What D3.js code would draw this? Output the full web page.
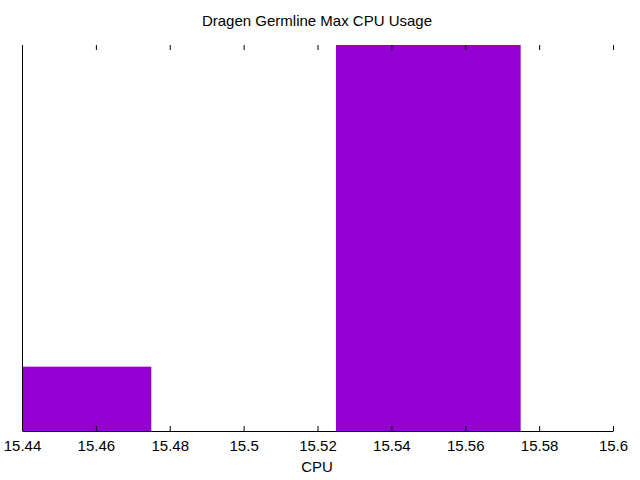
<!DOCTYPE html>
<html><head><meta charset="utf-8">
<script src="https://cdn.jsdelivr.net/npm/d3@7"></script>
<style>body{margin:0;background:#fff}</style></head>
<body><svg id="c" width="640" height="480"></svg>
<script>
const binStarts = [15.425, 15.525];
const binEnds = [15.475, 15.575];
const counts = [1, 6];
const xTicks = [15.44, 15.46, 15.48, 15.5, 15.52, 15.54, 15.56, 15.58, 15.6];
const svg = d3.select("#c");
const L = 22, R = 613, T = 45, B = 431;
const x = d3.scaleLinear().domain([15.44, 15.6]).range([L, R]);
const y = d3.scaleLinear().domain([0, 6]).range([B, T]);
svg.append("defs").append("clipPath").attr("id","cp").append("rect").attr("x",L).attr("y",T).attr("width",R-L).attr("height",B-T);
svg.append("g").attr("clip-path","url(#cp)").selectAll("rect").data(counts).join("rect")
  .attr("x",(d,i)=>x(binStarts[i])).attr("width",(d,i)=>x(binEnds[i])-x(binStarts[i]))
  .attr("y",d=>y(d)).attr("height",d=>B-y(d)).attr("fill","#9400d3");
const fmt = d => String(+d.toFixed(2));
const bx = svg.append("g").attr("transform",`translate(0,${B})`)
  .call(d3.axisBottom(x).tickValues(xTicks).tickFormat(fmt).tickSizeInner(-5).tickSizeOuter(0).tickPadding(9));
bx.selectAll("text").attr("font-family","Liberation Sans, Arial, sans-serif").attr("font-size",15).attr("fill","#000");
bx.select(".domain").attr("stroke","#000");
const tx = svg.append("g").attr("transform",`translate(0,${T})`)
  .call(d3.axisTop(x).tickValues(xTicks).tickFormat("").tickSizeInner(-5).tickSizeOuter(0));
tx.select(".domain").remove();
svg.append("line").attr("x1",L+0.5).attr("x2",L+0.5).attr("y1",T).attr("y2",B).attr("stroke","#000");
svg.append("text").attr("x",317).attr("y",472).attr("text-anchor","middle")
  .attr("font-family","Liberation Sans, Arial, sans-serif").attr("font-size",15).text("CPU");
svg.append("text").attr("x",317).attr("y",26).attr("text-anchor","middle")
  .attr("font-family","Liberation Sans, Arial, sans-serif").attr("font-size",15).text("Dragen Germline Max CPU Usage");
</script></body></html>
